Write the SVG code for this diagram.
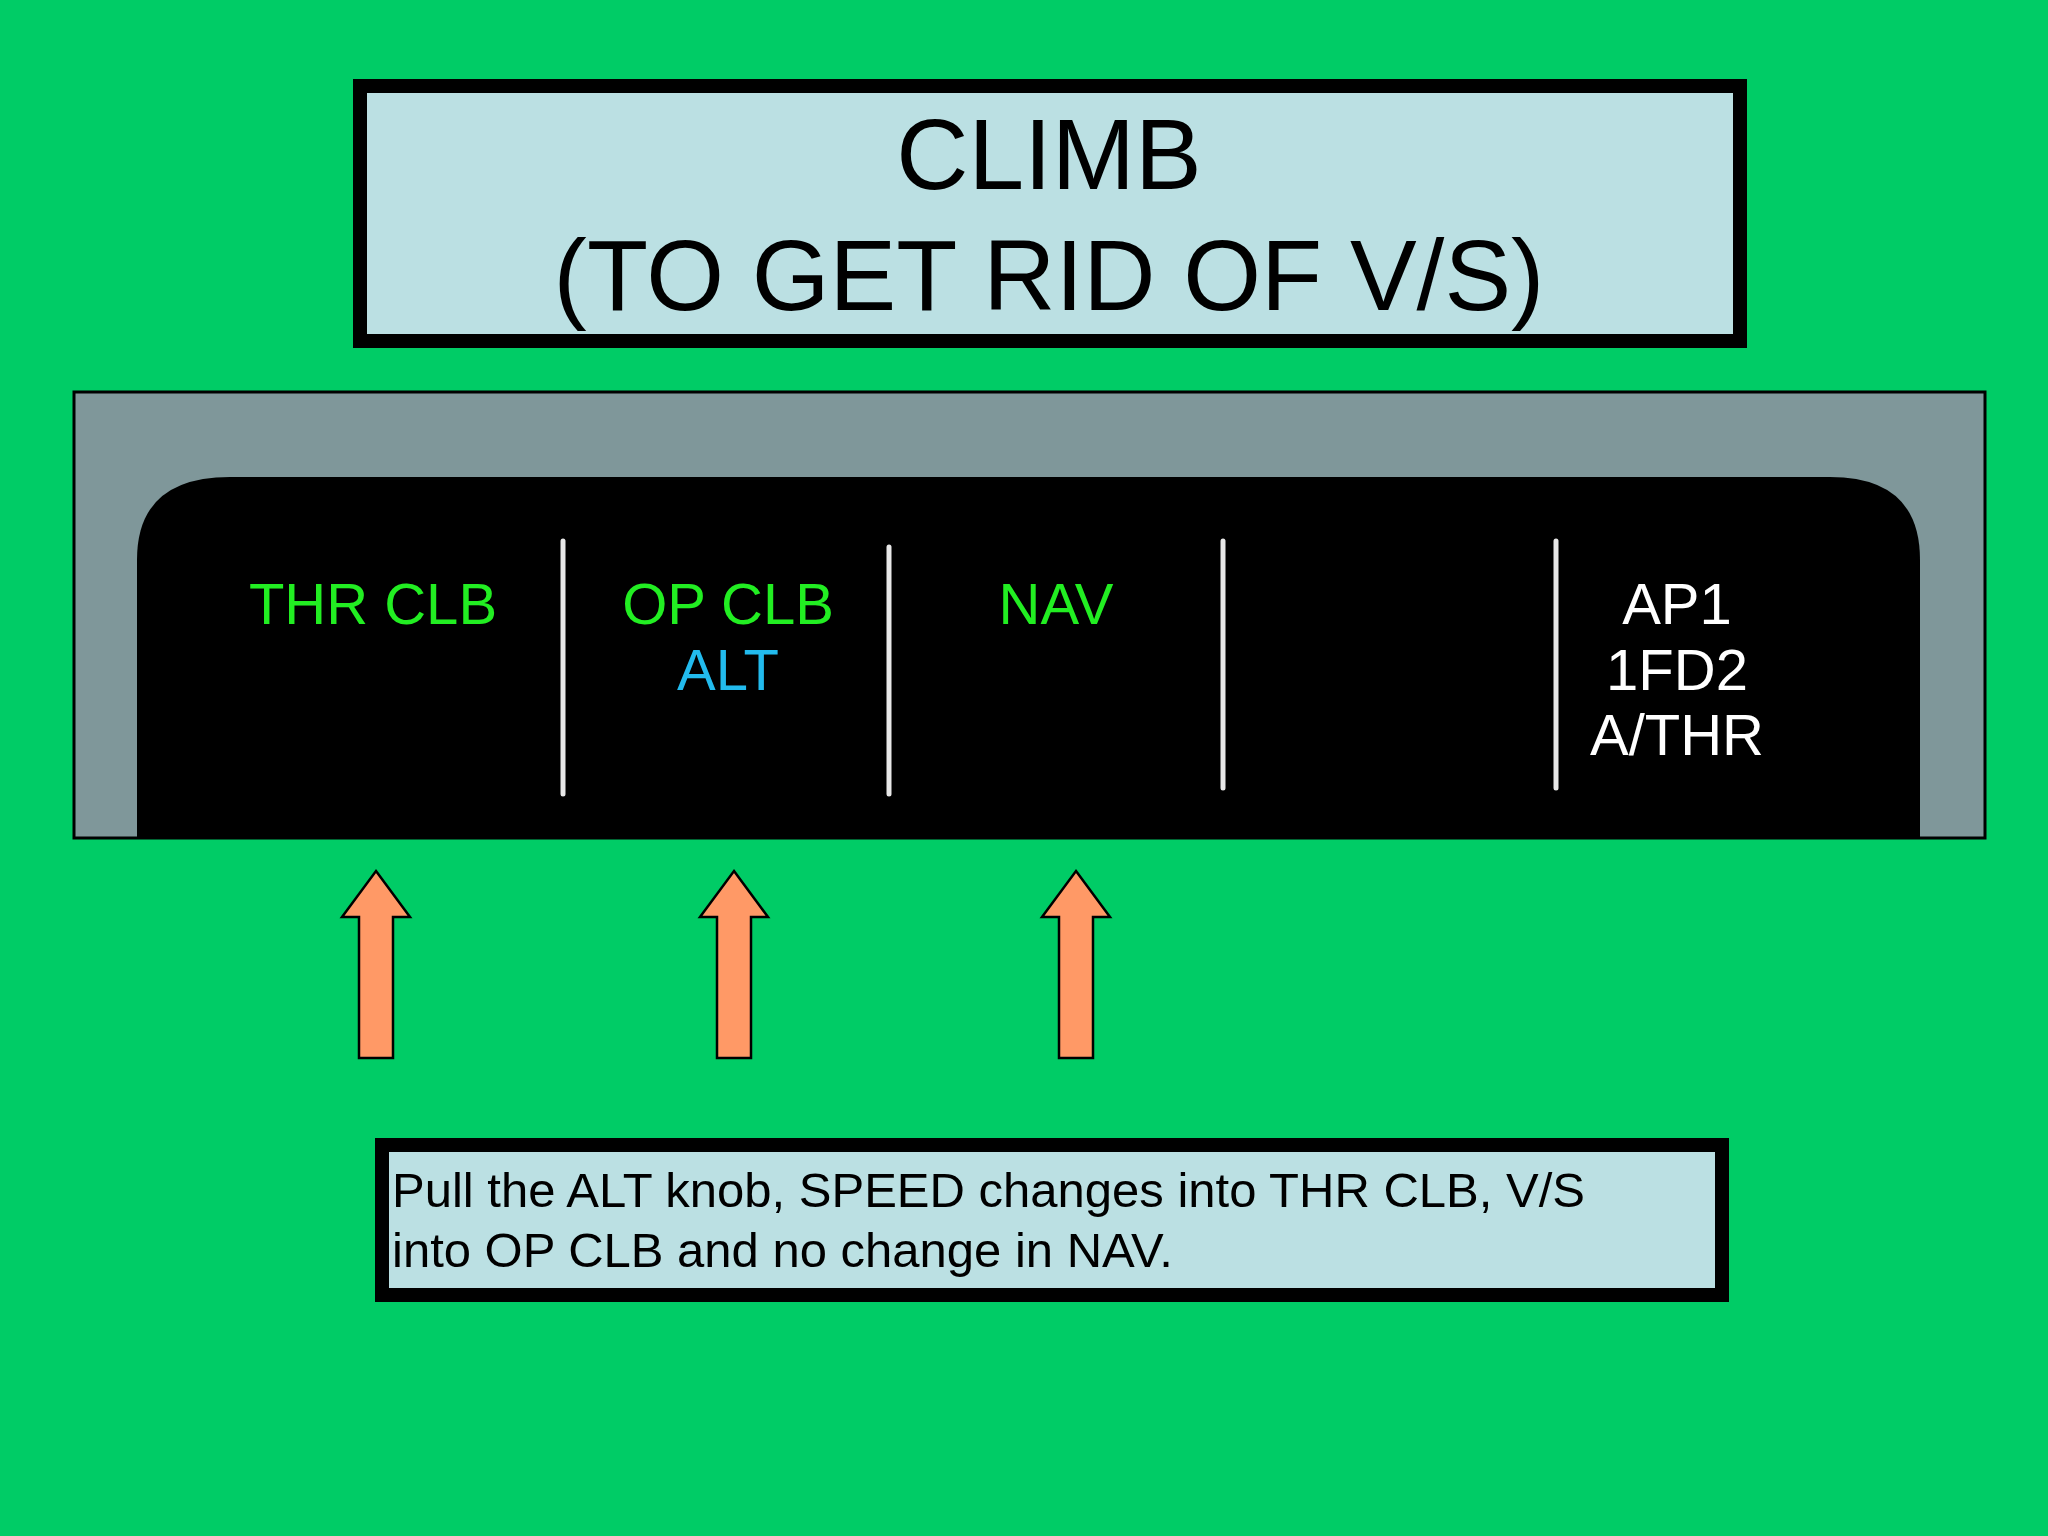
<svg xmlns="http://www.w3.org/2000/svg" width="2048" height="1536" viewBox="0 0 2048 1536">
<style>
text{font-family:"Liberation Sans",Arial,sans-serif}
.box{fill:#BBE0E3;stroke:#000;stroke-width:14}
.div{stroke:#E8E8E8;stroke-width:5;stroke-linecap:round}
.g{fill:#22EE22;font-size:58px}
.w{fill:#FFFFFF;font-size:58px}
.arr{fill:#FF9966;stroke:#000;stroke-width:2.5}
</style>
<rect width="2048" height="1536" fill="#00CC66"/>
<g id="title">
<rect class="box" x="360" y="86" width="1380" height="255"/>
<text x="1049" y="189" text-anchor="middle" font-size="100">CLIMB</text>
<text x="1049" y="310" text-anchor="middle" font-size="100">(TO GET RID OF V/S)</text>
</g>
<g id="panel">
<rect x="74" y="392" width="1911" height="446" fill="#7F979A" stroke="#000" stroke-width="3"/>
<path d="M137 838 V560 Q137 477 230 477 H1830 Q1920 477 1920 560 V838 Z" fill="#000"/>
<line class="div" x1="563" y1="541" x2="563" y2="794"/>
<line class="div" x1="889" y1="547" x2="889" y2="794"/>
<line class="div" x1="1223" y1="541" x2="1223" y2="788"/>
<line class="div" x1="1556" y1="541" x2="1556" y2="788"/>
<text class="g" x="373" y="624" text-anchor="middle">THR CLB</text>
<text class="g" x="728" y="624" text-anchor="middle">OP CLB</text>
<text x="728" y="690" text-anchor="middle" font-size="58" fill="#22BBEE">ALT</text>
<text class="g" x="1056" y="624" text-anchor="middle">NAV</text>
<text class="w" x="1677" y="624" text-anchor="middle">AP1</text>
<text class="w" x="1677" y="690" text-anchor="middle">1FD2</text>
<text class="w" x="1677" y="755" text-anchor="middle">A/THR</text>
</g>
<g id="connectors">
<path class="arr" d="M376 871 L410 917 L393 917 L393 1058 L359 1058 L359 917 L342 917 Z"/>
<path class="arr" d="M734 871 L768 917 L751 917 L751 1058 L717 1058 L717 917 L700 917 Z"/>
<path class="arr" d="M1076 871 L1110 917 L1093 917 L1093 1058 L1059 1058 L1059 917 L1042 917 Z"/>
</g>
<g id="note">
<rect class="box" x="382" y="1145" width="1340" height="150"/>
<text x="392" y="1207" font-size="49">Pull the ALT knob,  SPEED changes into THR CLB, V/S</text>
<text x="392" y="1267" font-size="49">into OP CLB and no change in NAV.</text>
</g>
</svg>
